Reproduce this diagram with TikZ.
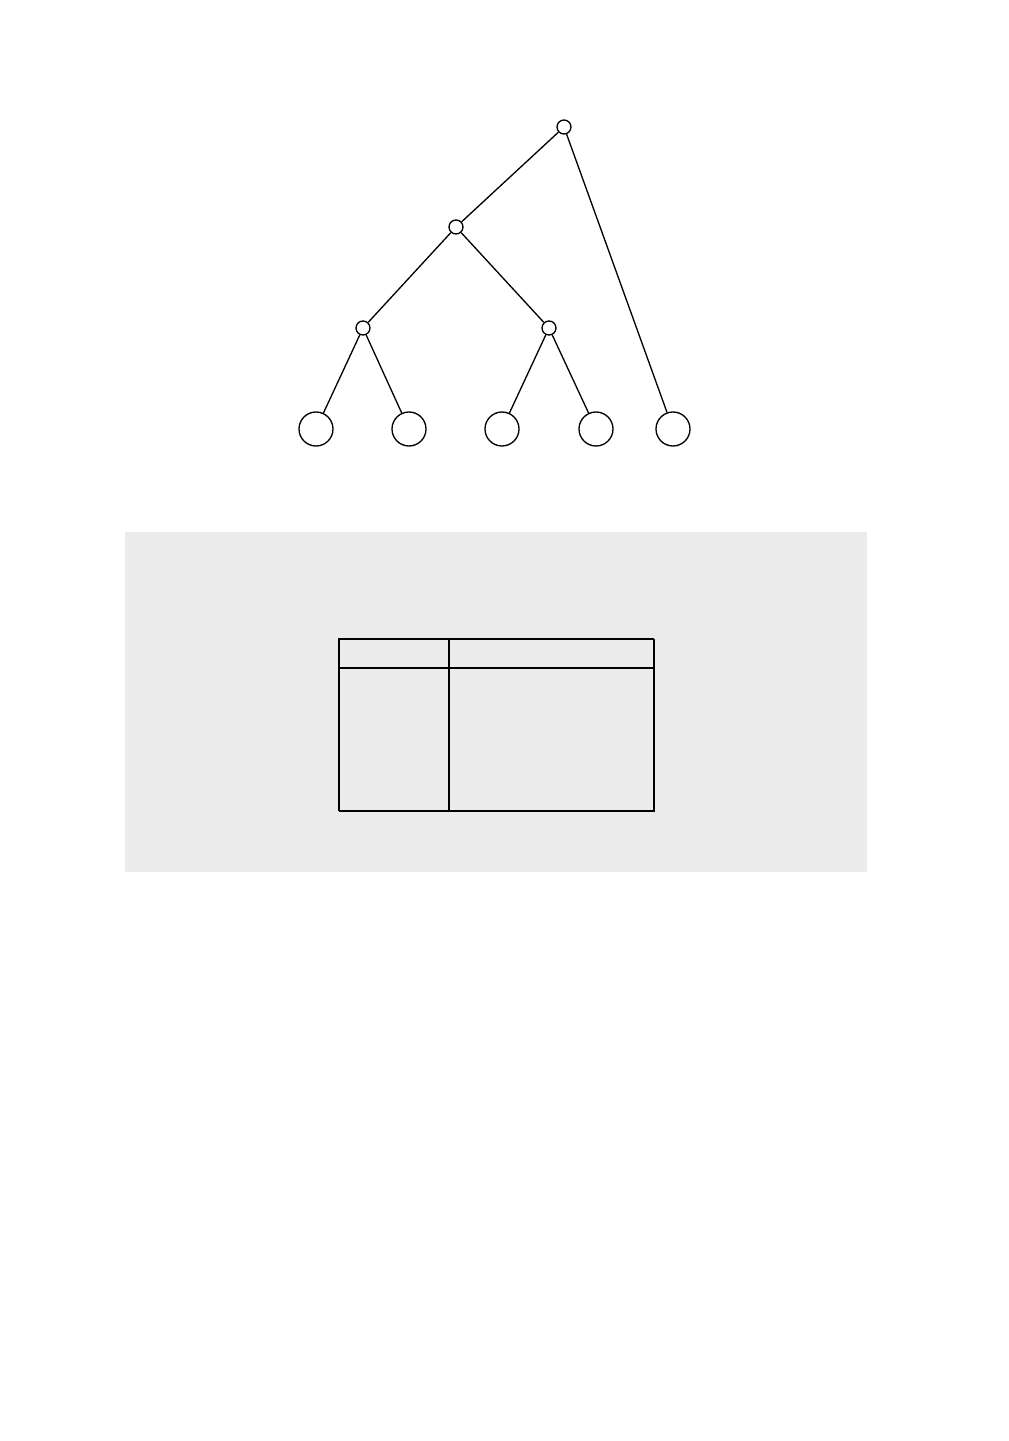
\documentclass[tikz,border=0pt]{standalone}
\usepackage{tikz}
\usepackage{xcolor}
\definecolor{panelgray}{RGB}{235,235,235}

\begin{document}
\begin{tikzpicture}[x=0.2mm, y=-0.2mm,
    inner/.style={draw, circle, fill=white, line width=0.75pt, inner sep=0pt, minimum size=2.8mm},
    leaf/.style={draw, circle, fill=white, line width=0.75pt, inner sep=0pt, minimum size=6.8mm},
    edge/.style={line width=0.75pt}]
    \useasboundingbox (0,0) rectangle (1009,1441);

    % Create internal vertices
    \node[inner] (R) at (564,127) {};
    \node[inner] (M) at (456,227) {};
    \node[inner] (L) at (363,328) {};
    \node[inner] (K) at (549,328) {};

    % Create leaves
    \node[leaf] (A) at (316,429) {};
    \node[leaf] (B) at (409,429) {};
    \node[leaf] (C) at (502,429) {};
    \node[leaf] (D) at (596,429) {};
    \node[leaf] (E) at (673,429) {};

    % Draw edges
    \draw[edge] (R) -- (M);
    \draw[edge] (R) -- (E);
    \draw[edge] (M) -- (L);
    \draw[edge] (M) -- (K);
    \draw[edge] (L) -- (A);
    \draw[edge] (L) -- (B);
    \draw[edge] (K) -- (C);
    \draw[edge] (K) -- (D);

    % Gray panel with empty table
    \fill[panelgray] (125,532) rectangle (867,872);
    \draw[line width=1pt] (339,811) -- (339,639) -- (654,639);
    \draw[line width=1.3pt] (654,639) -- (654,811) -- (339,811);
    \draw[line width=1pt] (339,668) -- (654,668);
    \draw[line width=1pt] (449,639) -- (449,811);
\end{tikzpicture}
\end{document}
